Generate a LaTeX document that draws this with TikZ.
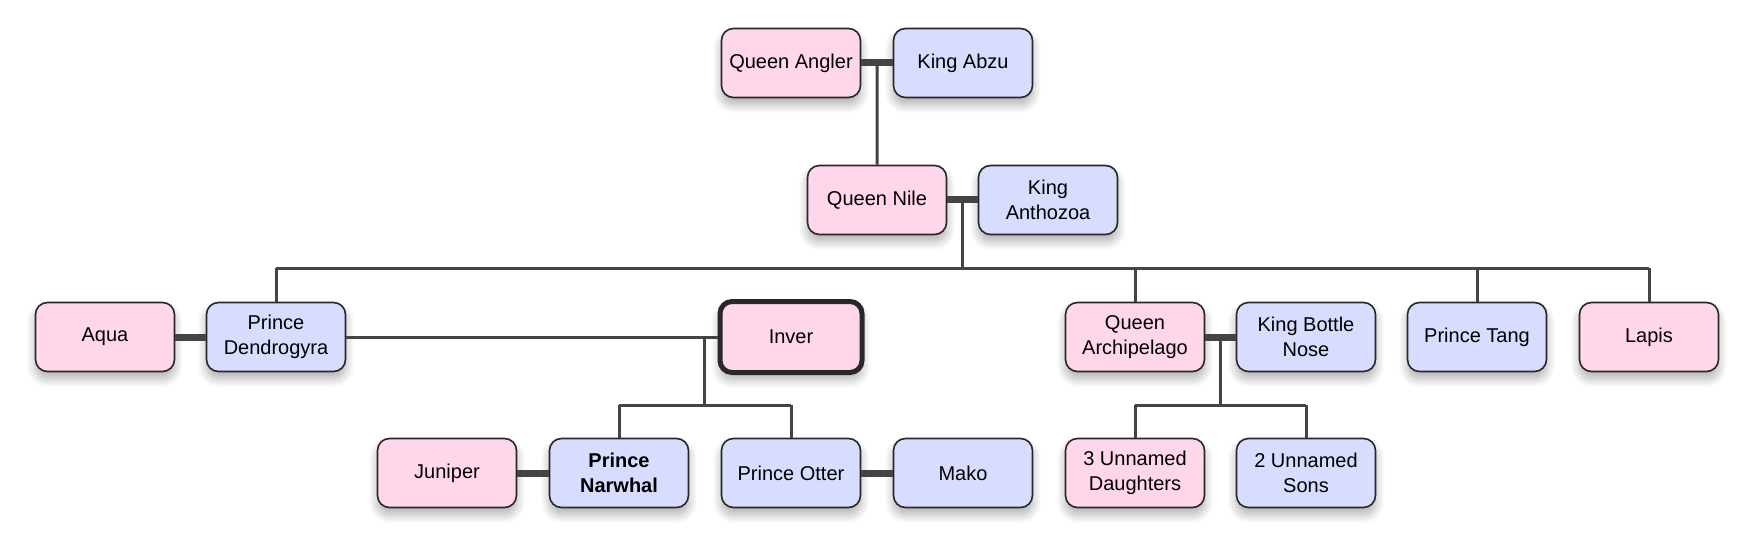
\documentclass[tikz,border=0pt]{standalone}
\usepackage{fontspec}
\setmainfont{Liberation Sans}
\usetikzlibrary{calc,shadows.blur}
\definecolor{pinkf}{RGB}{255,214,234}
\definecolor{bluef}{RGB}{216,221,255}
\definecolor{linec}{RGB}{68,68,68}
\definecolor{boxline}{RGB}{40,40,40}
\begin{document}
\begin{tikzpicture}[x=1pt,y=-1pt,
  person/.style={draw=boxline, line width=1.6pt, rounded corners=12pt,
    minimum width=139pt, minimum height=69pt, align=center, inner sep=2pt,
    font=\fontsize{20}{25}\selectfont, text=black,
    blur shadow={shadow xshift=0pt, shadow yshift=-7pt, shadow blur radius=9pt, shadow opacity=32, shadow blur steps=12}},
  female/.style={person, fill=pinkf},
  male/.style={person, fill=bluef},
  focus/.style={line width=5pt, minimum width=142pt, minimum height=71pt},
  link/.style={draw=linec, line width=3pt},
  marriage/.style={draw=linec, line width=7pt},
]
\useasboundingbox (0,0) rectangle (1740,556);
% generation 1
\node[female] (QA) at (791,63) {Queen Angler};
\node[male] (KA) at (963,63) {King Abzu};
% generation 2
\node[female] (QN) at (877,200) {Queen Nile};
\node[male] (KAn) at (1048,200) {King\\Anthozoa};
% generation 3
\node[female] (Aqua) at (105,337) {Aqua};
\node[male] (PD) at (276,337) {Prince\\Dendrogyra};
\node[female,focus] (Inver) at (791,337) {Inver};
\node[female] (QAr) at (1135,337) {Queen\\Archipelago};
\node[male] (KBN) at (1306,337) {King Bottle\\Nose};
\node[male] (PT) at (1477,337) {Prince Tang};
\node[female] (Lapis) at (1649,337) {Lapis};
% generation 4
\node[female] (Jun) at (447,473) {Juniper};
\node[male] (PN) at (619,473) {\textbf{Prince}\\\textbf{Narwhal}};
\node[male] (PO) at (791,473) {Prince Otter};
\node[male] (Mako) at (963,473) {Mako};
\node[female] (D3) at (1135,473) {3 Unnamed\\Daughters};
\node[male] (S2) at (1306,473) {2 Unnamed\\Sons};

% helper coordinates
\coordinate (m1) at ($(QA.east)!0.5!(KA.west)$);
\coordinate (m2) at ($(QN.east)!0.5!(KAn.west)$);
\coordinate (m3) at ($(QAr.east)!0.5!(KBN.west)$);
\coordinate (bus) at (0,268);
\coordinate (j1) at ([xshift=-13pt]Inver.west);
\coordinate (kids) at (0,405);

% generation 1 -> 2
\draw[link] (m1) -- (QN.north);
\draw[marriage] (QA.east) -- (KA.west);
% generation 2 -> 3
\draw[link] (m2) -- (m2 |- bus);
\draw[link] (PD.north |- bus) -- (Lapis.north |- bus);
\draw[link] (PD.north |- bus) -- (PD.north);
\draw[link] (QAr.north |- bus) -- (QAr.north);
\draw[link] (PT.north |- bus) -- (PT.north);
\draw[link] (Lapis.north |- bus) -- (Lapis.north);
\draw[marriage] (QN.east) -- (KAn.west);
% couples of generation 3
\draw[marriage] (Aqua.east) -- (PD.west);
\draw[link] (PD.east) -- (Inver.west);
\draw[marriage] (QAr.east) -- (KBN.west);
% generation 3 -> 4
\draw[link] (j1) -- (j1 |- kids);
\draw[link] (PN.north |- kids) -- (PO.north |- kids);
\draw[link] (PN.north |- kids) -- (PN.north);
\draw[link] (PO.north |- kids) -- (PO.north);
\draw[link] (m3) -- (m3 |- kids);
\draw[link] (D3.north |- kids) -- (S2.north |- kids);
\draw[link] (D3.north |- kids) -- (D3.north);
\draw[link] (S2.north |- kids) -- (S2.north);
% couples of generation 4
\draw[marriage] (Jun.east) -- (PN.west);
\draw[marriage] (PO.east) -- (Mako.west);
\end{tikzpicture}
\end{document}
